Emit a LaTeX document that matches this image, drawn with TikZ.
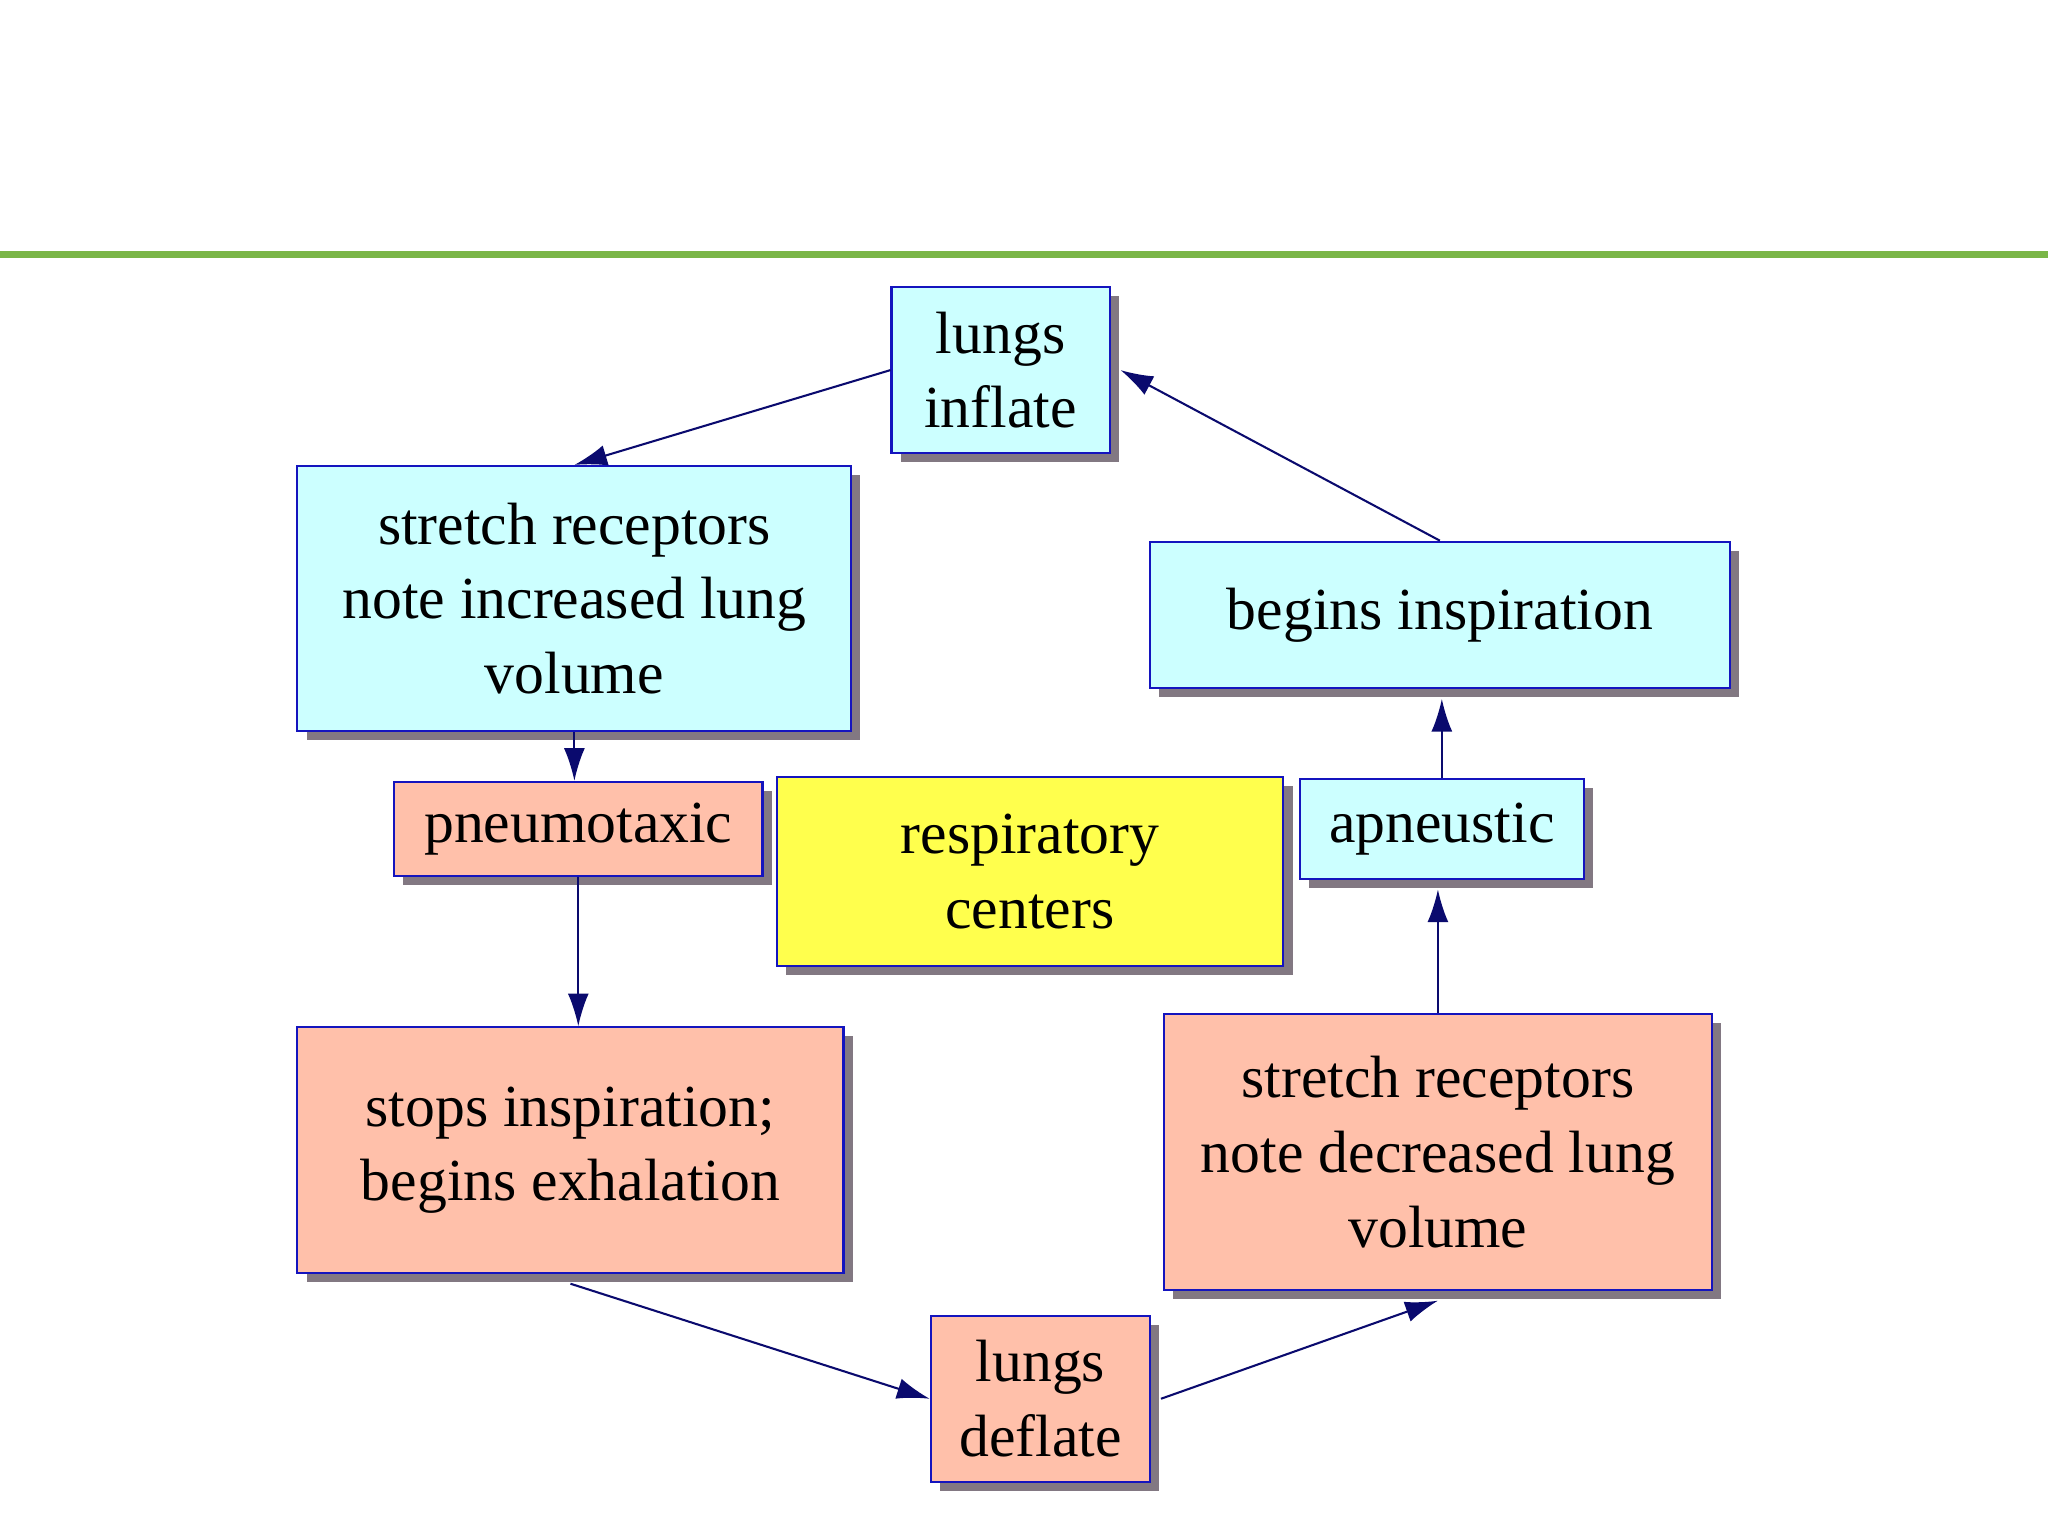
\documentclass[tikz,border=0pt]{standalone}
\usepackage{fontspec}
\setmainfont{Liberation Serif}
\usetikzlibrary{shadows,arrows.meta}
\definecolor{cyanbox}{RGB}{204,255,255}
\definecolor{salmon}{RGB}{255,192,170}
\definecolor{yellowbox}{RGB}{255,255,77}
\definecolor{edge}{RGB}{20,20,190}
\definecolor{arr}{RGB}{10,10,110}
\definecolor{shade}{RGB}{130,120,130}
\definecolor{rule}{RGB}{122,182,72}
\tikzset{
  box/.style={draw=edge, line width=0.9pt, align=center, inner sep=0pt,
    font=\fontsize{26}{32.5}\selectfont,
    drop shadow={shadow xshift=0.14cm, shadow yshift=-0.14cm, fill=shade, opacity=1}},
  cy/.style={box, fill=cyanbox},
  sa/.style={box, fill=salmon},
  ye/.style={box, fill=yellowbox},
  link/.style={draw=arr, line width=0.9pt, -{Latex[length=0.5cm,width=0.32cm]}}
}
% helper: box from pixel corners (x1,y1,x2,y2) in reference pixels
\newcommand{\pbox}[7]{%
  \node[#1, minimum width={(#5-#3)*0.02cm}, minimum height={(#6-#4)*0.02cm}]
    (#2) at ({(#3+#5)*0.01},{-(#4+#6)*0.01}) {#7};}
\begin{document}
\begin{tikzpicture}
\useasboundingbox[fill=white] (0,0) rectangle (31.36,-23.52);
\draw[rule, line width=3pt] (0,-3.9) -- (31.36,-3.9);

\pbox{cy}{inflate}{683}{220}{850}{347}{lungs\\inflate}
\pbox{cy}{incr}{228}{357}{652}{560}{stretch receptors\\note increased lung\\volume}
\pbox{cy}{begins}{881}{415}{1325}{527}{begins inspiration}
\pbox{sa}{pneumo}{302}{599}{584}{671}{pneumotaxic}
\pbox{ye}{resp}{595}{595}{983}{740}{respiratory\\centers}
\pbox{cy}{apneu}{996}{597}{1213}{673}{apneustic}
\pbox{sa}{stops}{228}{787}{646}{975}{stops inspiration;\\begins exhalation}
\pbox{sa}{decr}{892}{777}{1311}{988}{stretch receptors\\note decreased lung\\volume}
\pbox{sa}{deflate}{713}{1008}{881}{1135}{lungs\\deflate}

\draw[link] (inflate.west) -- (incr.north);
\draw[link] (begins.north) -- ([xshift=0.15cm]inflate.east);
\draw[link] (incr.south) -- (incr.south |- pneumo.north);
\draw[link] (pneumo.south) -- (pneumo.south |- stops.north);
\draw[link] ([yshift=-0.15cm]stops.south) -- (deflate.west);
\draw[link] ([xshift=0.15cm]deflate.east) -- ([yshift=-0.15cm]decr.south);
\draw[link] (decr.north) -- ([yshift=-0.15cm]decr.north |- apneu.south);
\draw[link] (apneu.north) -- ([yshift=-0.15cm]apneu.north |- begins.south);
\end{tikzpicture}
\end{document}
